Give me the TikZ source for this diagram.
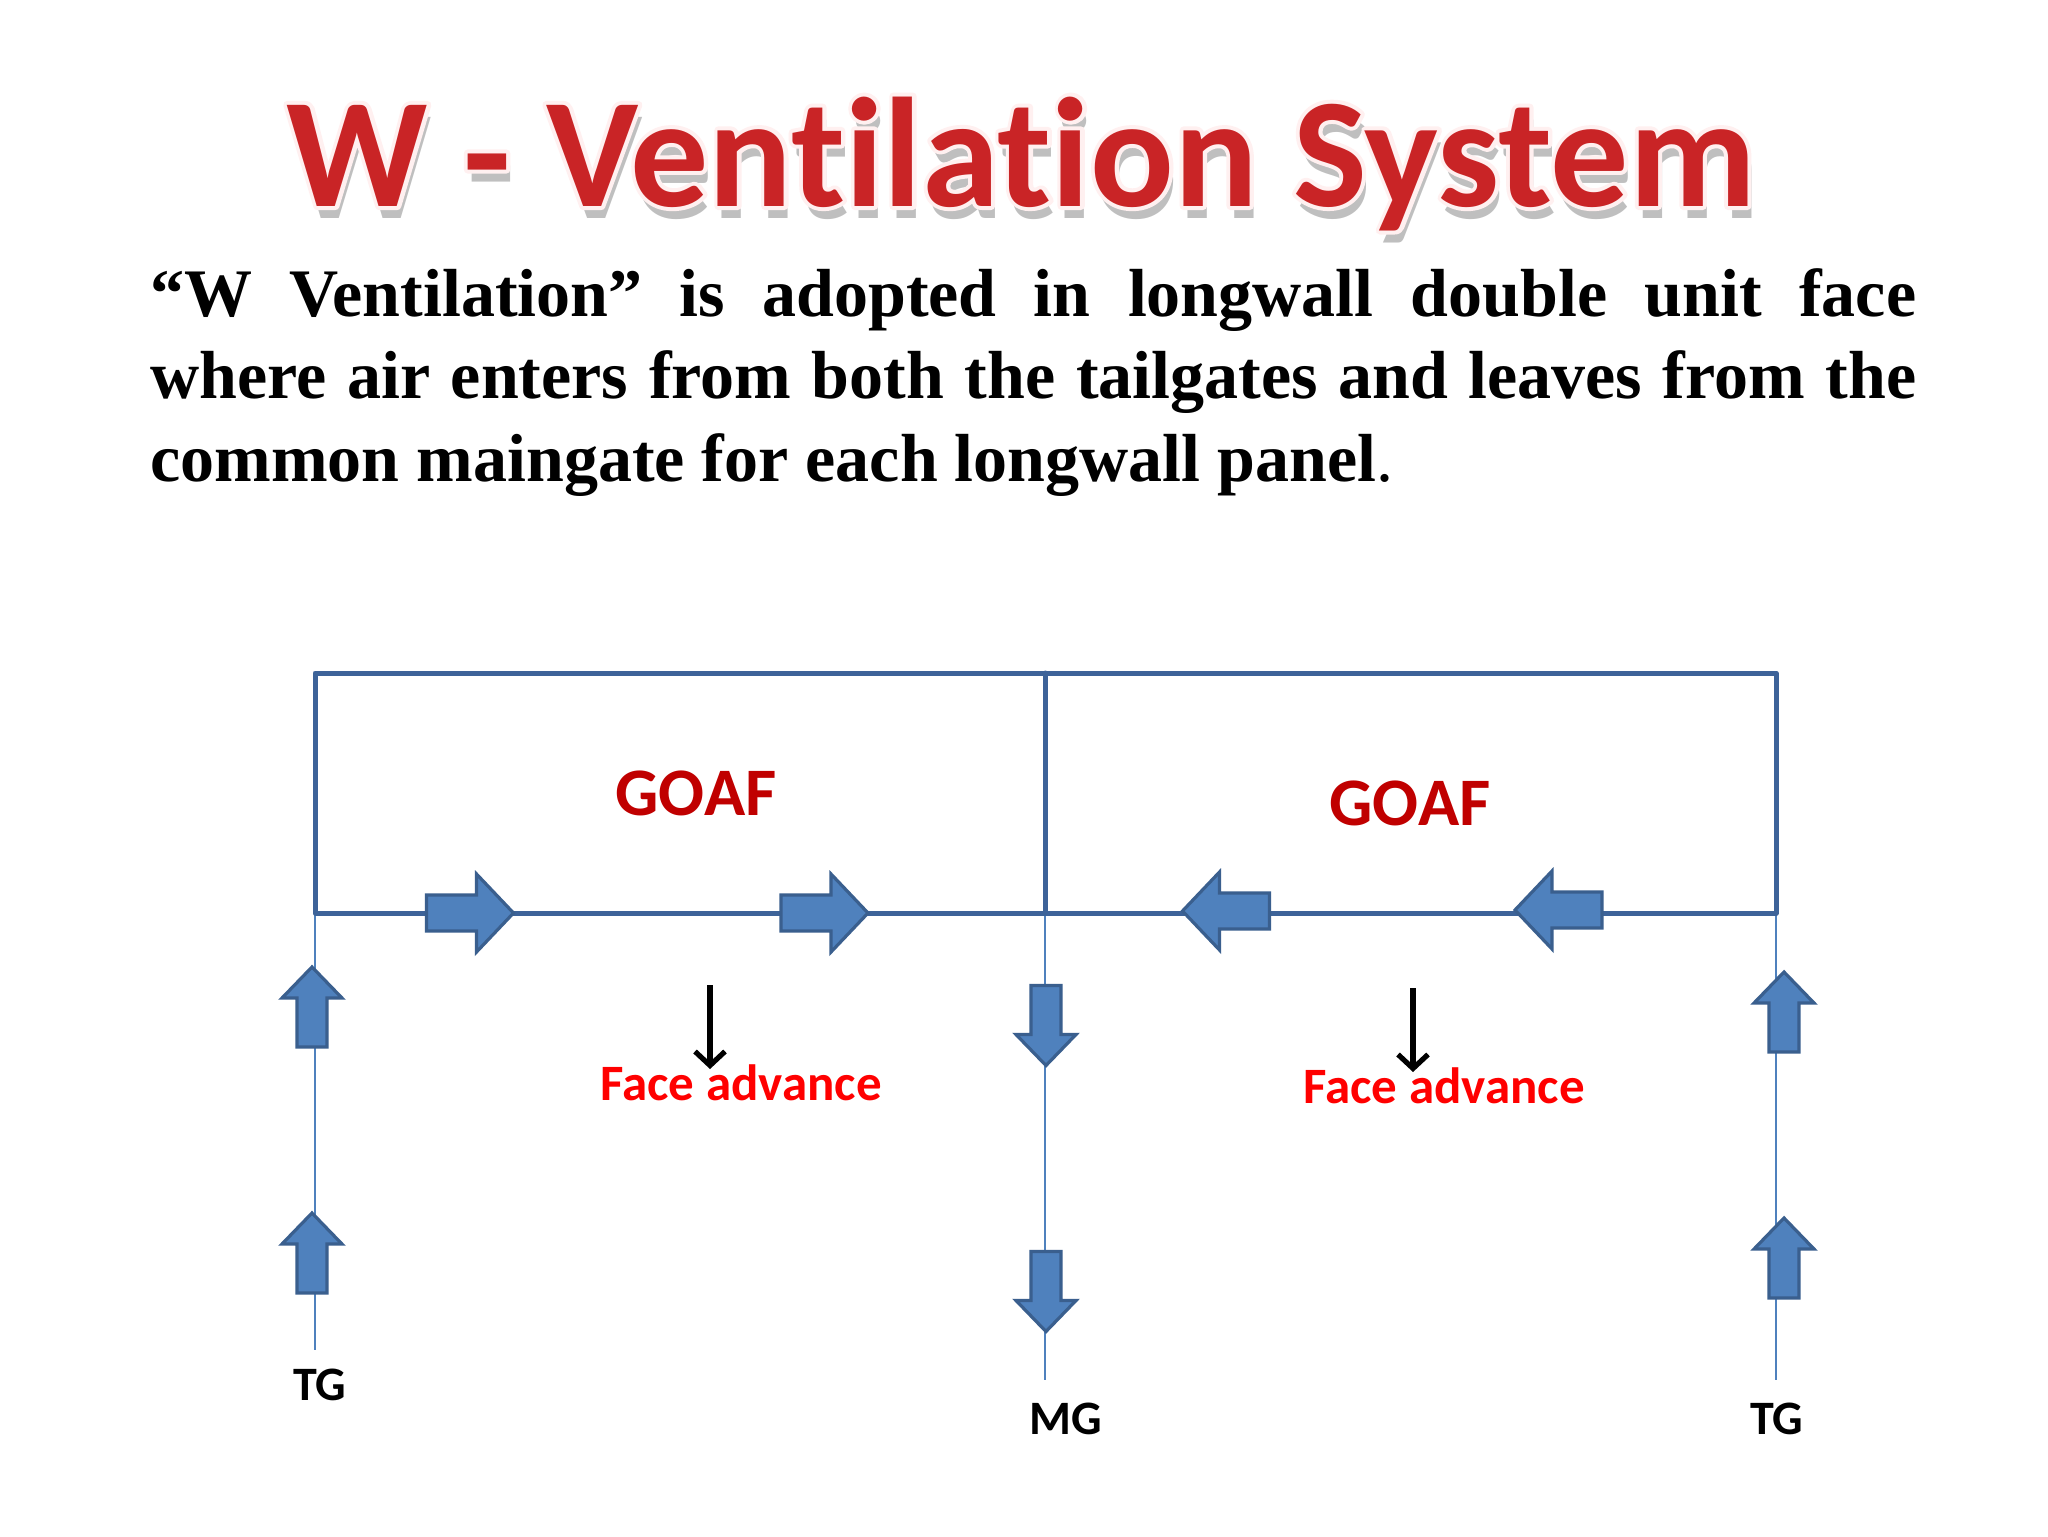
\documentclass[tikz,border=0pt]{standalone}
\usepackage{fontspec}
\setmainfont{Liberation Serif}
\newfontfamily\calib{Carlito}
\newfontfamily\calibttl[Ligatures=NoCommon]{Carlito}
\usetikzlibrary{arrows.meta}
\definecolor{titlered}{HTML}{C92426}
\definecolor{goafred}{HTML}{C00000}
\definecolor{facered}{HTML}{FF0000}
\definecolor{boxblue}{HTML}{3D6399}
\definecolor{thinblue}{HTML}{4F81BD}
\definecolor{blkfill}{HTML}{4F81BD}
\definecolor{blkline}{HTML}{3A5F8E}
\tikzset{
 wall/.style={draw=boxblue, line width=2.5pt, line join=round, line cap=round},
 gate/.style={draw=thinblue, line width=0.8pt},
 blk/.style={fill=blkfill, draw=blkline, line width=1.6pt, line join=miter},
 goaf/.style={font=\calib\bfseries\fontsize{34}{40}\selectfont, text=goafred, inner sep=0pt, anchor=base},
 face/.style={font=\calib\bfseries\fontsize{25.5}{30}\selectfont, text=facered, inner sep=0pt, anchor=base west},
 gatelbl/.style={font=\calib\bfseries\fontsize{24}{28}\selectfont, text=black, inner sep=0pt, anchor=base},
 advarrow/.style={draw=black, line width=2.6pt, -{Straight Barb[length=7pt,width=15pt]}},
 para/.style={font=\bfseries\fontsize{34}{41}\selectfont, inner sep=0pt, anchor=base west},
 ttl/.style={font=\calibttl\bfseries\fontsize{78}{90}\selectfont, inner sep=0pt, anchor=base},
}
\newcommand\ttlhalo[1]{\special{pdf:literal direct 1 0.94 0.94 RG 1 0.94 0.94 rg 2 Tr 4 w 1 j}#1\special{pdf:literal direct 0 Tr}}
\newcommand\blkR[2]{\draw[blk,shift={(#1,#2)}] (-43.5,-18) -- (6.5,-18) -- (6.5,-39) -- (43.5,0) -- (6.5,39) -- (6.5,18) -- (-43.5,18) -- cycle;}
\newcommand\blkL[2]{\draw[blk,shift={(#1,#2)}] (43.5,-18) -- (-6.5,-18) -- (-6.5,-39) -- (-43.5,0) -- (-6.5,39) -- (-6.5,18) -- (43.5,18) -- cycle;}
\newcommand\blkU[2]{\draw[blk,shift={(#1,#2)}] (-15,40) -- (-15,-9) -- (-30,-9) -- (0,-40) -- (30,-9) -- (15,-9) -- (15,40) -- cycle;}
\newcommand\blkD[2]{\draw[blk,shift={(#1,#2)}] (-15,-40) -- (-15,9) -- (-30,9) -- (0,40) -- (30,9) -- (15,9) -- (15,-40) -- cycle;}
\begin{document}
\begin{tikzpicture}[x=0.5pt,y=-0.5pt]
\useasboundingbox (0,0) rectangle (2048,1536);
\fill[white] (0,0) rectangle (2048,1536);
% title: shadow, light halo, red face
\node[ttl, text=black, opacity=0.25] (tshadow) at (1025,218) {W - Ventilation System};
\node[ttl, text=white] (thalo) at (1021,206) {\ttlhalo{W - Ventilation System}};
\node[ttl, text=titlered] (title) at (1021,206) {W - Ventilation System};
% paragraph
\node[para] (p1) at (150,316) {\makebox[883pt][s]{“W Ventilation” is adopted in longwall double unit face}};
\node[para] (p2) at (150,398) {\makebox[883pt][s]{where air enters from both the tailgates and leaves from the}};
\node[para] (p3) at (150,481) {common maingate for each longwall panel{\mdseries.}};
% geometry
\coordinate (tl) at (315,673);
\coordinate (tm) at (1045,673);
\coordinate (tr) at (1776,673);
\coordinate (bl) at (315,913);
\coordinate (bm) at (1045,913);
\coordinate (br) at (1776,913);
\coordinate (lg) at (315,1350);
\coordinate (mg) at (1045,1380);
\coordinate (rg) at (1776,1380);
\draw[gate] (bl) -- (lg);
\draw[gate] (bm) -- (mg);
\draw[gate] (br) -- (rg);
\draw[wall] (tl) -- (tr) -- (br) -- (bl) -- cycle;
\draw[wall] (tm) -- (bm);
% block arrows
\blkR{470}{913}
\blkR{824.5}{913}
\blkL{1226}{911}
\blkL{1558.5}{910}
\blkU{312}{1007}
\blkU{312}{1253}
\blkD{1046}{1025.5}
\blkD{1046}{1291.5}
\blkU{1784}{1012}
\blkU{1784}{1258}
% labels
\node[goaf] (goaf1) at (696,815) {GOAF};
\node[goaf] (goaf2) at (1410,825) {GOAF};
\node[face] (face1) at (600,1100) {Face advance};
\node[face] (face2) at (1303,1103) {Face advance};
\coordinate (fa1s) at (710,985);
\coordinate (fa1e) at (710,1069);
\coordinate (fa2s) at (1413,988);
\coordinate (fa2e) at (1413,1072);
\draw[advarrow] (fa1s) -- (fa1e);
\draw[advarrow] (fa2s) -- (fa2e);
\node[gatelbl] (tg1) at (320,1400) {TG};
\node[gatelbl] (mglbl) at (1066,1434) {MG};
\node[gatelbl] (tg2) at (1777,1434) {TG};
\end{tikzpicture}
\end{document}
